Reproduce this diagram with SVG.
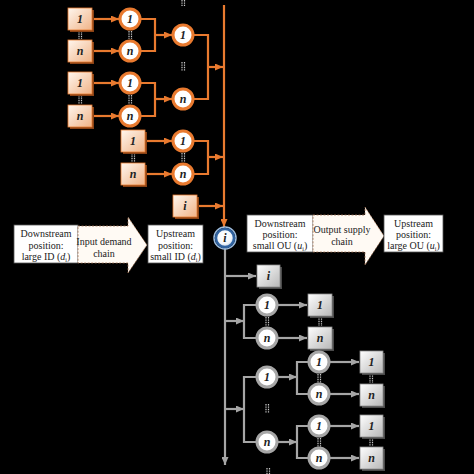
<svg xmlns="http://www.w3.org/2000/svg" width="474" height="474" viewBox="0 0 474 474">
<defs>
<linearGradient id="go" x1="0" y1="0" x2="1" y2="1"><stop offset="0" stop-color="#fff7ef"/><stop offset="1" stop-color="#f0b387"/></linearGradient>
<linearGradient id="gg" x1="0" y1="0" x2="1" y2="1"><stop offset="0" stop-color="#ffffff"/><stop offset="1" stop-color="#b8b8b8"/></linearGradient>
<radialGradient id="gb" cx="0.45" cy="0.4" r="0.6"><stop offset="0" stop-color="#ffffff"/><stop offset="0.7" stop-color="#f2f6fb"/><stop offset="1" stop-color="#b9cfe6"/></radialGradient>
<marker id="ao" markerUnits="userSpaceOnUse" markerWidth="8" markerHeight="7" refX="8" refY="3.5" orient="auto"><path d="M0,0 L8,3.5 L0,7 z" fill="#e97a2f"/></marker>
<marker id="ag" markerUnits="userSpaceOnUse" markerWidth="8" markerHeight="7" refX="8" refY="3.5" orient="auto"><path d="M0,0 L8,3.5 L0,7 z" fill="#a6a6a6"/></marker>
<style>
.bg{fill:#000}
.sqo{fill:url(#go);stroke:#e97a2f;stroke-width:0.8}
.sho{fill:#8a4215}
.sqg{fill:url(#gg);stroke:#8c8c8c;stroke-width:0.8}
.shg{fill:#4a4a4a}
.co{fill:#fff;stroke:#e97a2f;stroke-width:3}
.cg{fill:#fff;stroke:#a6a6a6;stroke-width:3}
.lo{fill:none;stroke:#e97a2f;stroke-width:2.2}
.lg{fill:none;stroke:#a6a6a6;stroke-width:2.2}
.lab{font-family:"Liberation Serif",serif;font-style:italic;font-weight:bold;font-size:12px;fill:#222;text-anchor:middle}
.dots{stroke:#c8c8c8;stroke-width:1.2;stroke-dasharray:1.4 1}
.box{fill:#fff;stroke:#555;stroke-width:0.8}
.arr{fill:#fffaf4;stroke:#a07050;stroke-width:0.8;stroke-dasharray:2 1.5}
.tx{font-family:"Liberation Serif",serif;font-size:10px;fill:#222;text-anchor:middle}
</style>
</defs>
<rect class="bg" x="0" y="0" width="474" height="474"/>

<g id="connectors">
<!-- orange -->
<line class="lo" x1="224" y1="5" x2="224" y2="227" marker-end="url(#ao)"/>
<line class="lo" x1="92" y1="19" x2="119" y2="19" marker-end="url(#ao)"/>
<line class="lo" x1="92" y1="51" x2="119" y2="51" marker-end="url(#ao)"/>
<line class="lo" x1="92" y1="83" x2="119" y2="83" marker-end="url(#ao)"/>
<line class="lo" x1="92" y1="116" x2="119" y2="116" marker-end="url(#ao)"/>
<path class="lo" d="M140,19 H155 V51 H140"/>
<line class="lo" x1="155" y1="35" x2="172" y2="35" marker-end="url(#ao)"/>
<path class="lo" d="M140,83 H155 V116 H140"/>
<line class="lo" x1="155" y1="99" x2="172" y2="99" marker-end="url(#ao)"/>
<path class="lo" d="M193,35 H208 V99 H193"/>
<line class="lo" x1="208" y1="67" x2="223" y2="67" marker-end="url(#ao)"/>
<line class="lo" x1="145" y1="141" x2="172" y2="141" marker-end="url(#ao)"/>
<line class="lo" x1="145" y1="174" x2="172" y2="174" marker-end="url(#ao)"/>
<path class="lo" d="M193,141 H208 V174 H193"/>
<line class="lo" x1="208" y1="157" x2="223" y2="157" marker-end="url(#ao)"/>
<line class="lo" x1="197" y1="206" x2="223" y2="206" marker-end="url(#ao)"/>
<!-- gray -->
<line class="lg" x1="225" y1="248" x2="225" y2="465" marker-end="url(#ag)"/>
<line class="lg" x1="225" y1="276" x2="256" y2="276" marker-end="url(#ag)"/>
<line class="lg" x1="225" y1="321" x2="244" y2="321" marker-end="url(#ag)"/>
<path class="lg" d="M257,305 H244 V338 H257"/>
<line class="lg" x1="277" y1="305" x2="307" y2="305" marker-end="url(#ag)"/>
<line class="lg" x1="277" y1="338" x2="307" y2="338" marker-end="url(#ag)"/>
<line class="lg" x1="225" y1="409" x2="244" y2="409" marker-end="url(#ag)"/>
<path class="lg" d="M257,377 H244 V442 H257"/>
<line class="lg" x1="277" y1="377" x2="297" y2="377" marker-end="url(#ag)"/>
<path class="lg" d="M309,362 H297 V394 H309"/>
<line class="lg" x1="329" y1="362" x2="359" y2="362" marker-end="url(#ag)"/>
<line class="lg" x1="329" y1="394" x2="359" y2="394" marker-end="url(#ag)"/>
<line class="lg" x1="277" y1="442" x2="297" y2="442" marker-end="url(#ag)"/>
<path class="lg" d="M309,426 H297 V458 H309"/>
<line class="lg" x1="329" y1="426" x2="359" y2="426" marker-end="url(#ag)"/>
<line class="lg" x1="329" y1="458" x2="359" y2="458" marker-end="url(#ag)"/>
</g>

<g id="dots">
<line class="dots" x1="182" y1="0" x2="182" y2="6"/><line class="dots" x1="184.5" y1="0" x2="184.5" y2="6"/>
<line class="dots" x1="79" y1="31" x2="79" y2="39"/><line class="dots" x1="81.5" y1="31" x2="81.5" y2="39"/>
<line class="dots" x1="129" y1="31" x2="129" y2="39"/><line class="dots" x1="131.5" y1="31" x2="131.5" y2="39"/>
<line class="dots" x1="182" y1="62" x2="182" y2="71"/><line class="dots" x1="184.5" y1="62" x2="184.5" y2="71"/>
<line class="dots" x1="79" y1="95" x2="79" y2="104"/><line class="dots" x1="81.5" y1="95" x2="81.5" y2="104"/>
<line class="dots" x1="129" y1="95" x2="129" y2="104"/><line class="dots" x1="131.5" y1="95" x2="131.5" y2="104"/>
<line class="dots" x1="132" y1="153" x2="132" y2="162"/><line class="dots" x1="134.5" y1="153" x2="134.5" y2="162"/>
<line class="dots" x1="182" y1="153" x2="182" y2="162"/><line class="dots" x1="184.5" y1="153" x2="184.5" y2="162"/>
<line class="dots" x1="266" y1="317" x2="266" y2="326"/><line class="dots" x1="268.5" y1="317" x2="268.5" y2="326"/>
<line class="dots" x1="319" y1="316" x2="319" y2="326"/><line class="dots" x1="321.5" y1="316" x2="321.5" y2="326"/>
<line class="dots" x1="266" y1="404" x2="266" y2="413"/><line class="dots" x1="268.5" y1="404" x2="268.5" y2="413"/>
<line class="dots" x1="318" y1="374" x2="318" y2="383"/><line class="dots" x1="320.5" y1="374" x2="320.5" y2="383"/>
<line class="dots" x1="370" y1="373" x2="370" y2="383"/><line class="dots" x1="372.5" y1="373" x2="372.5" y2="383"/>
<line class="dots" x1="318" y1="438" x2="318" y2="447"/><line class="dots" x1="320.5" y1="438" x2="320.5" y2="447"/>
<line class="dots" x1="370" y1="437" x2="370" y2="446"/><line class="dots" x1="372.5" y1="437" x2="372.5" y2="446"/>
<line class="dots" x1="267" y1="468" x2="267" y2="474"/><line class="dots" x1="269.5" y1="468" x2="269.5" y2="474"/>
</g>

<!-- orange squares -->
<g id="os1a"><rect class="sho" x="70" y="10" width="24" height="22"/><rect class="sqo" x="68" y="8" width="24" height="22"/><text class="lab" x="80" y="23">1</text></g>
<g id="os1b"><rect class="sho" x="70" y="42" width="24" height="22"/><rect class="sqo" x="68" y="40" width="24" height="22"/><text class="lab" x="80" y="55">n</text></g>
<g id="os2a"><rect class="sho" x="70" y="74" width="24" height="22"/><rect class="sqo" x="68" y="72" width="24" height="22"/><text class="lab" x="80" y="87">1</text></g>
<g id="os2b"><rect class="sho" x="70" y="107" width="24" height="22"/><rect class="sqo" x="68" y="105" width="24" height="22"/><text class="lab" x="80" y="120">n</text></g>
<g id="os3a"><rect class="sho" x="123" y="132" width="24" height="22"/><rect class="sqo" x="121" y="130" width="24" height="22"/><text class="lab" x="133" y="145">1</text></g>
<g id="os3b"><rect class="sho" x="123" y="165" width="24" height="22"/><rect class="sqo" x="121" y="163" width="24" height="22"/><text class="lab" x="133" y="178">n</text></g>
<g id="osi"><rect class="sho" x="175" y="197" width="24" height="22"/><rect class="sqo" x="173" y="195" width="24" height="22"/><text class="lab" x="185" y="210">i</text></g>

<!-- orange circles -->
<g id="oc1a"><circle class="co" cx="130" cy="19" r="10"/><text class="lab" x="130" y="23">1</text></g>
<g id="oc1b"><circle class="co" cx="130" cy="51" r="10"/><text class="lab" x="130" y="55">n</text></g>
<g id="oc2a"><circle class="co" cx="130" cy="83" r="10"/><text class="lab" x="130" y="87">1</text></g>
<g id="oc2b"><circle class="co" cx="130" cy="116" r="10"/><text class="lab" x="130" y="120">n</text></g>
<g id="oc3a"><circle class="co" cx="183" cy="35" r="10"/><text class="lab" x="183" y="39">1</text></g>
<g id="oc3b"><circle class="co" cx="183" cy="99" r="10"/><text class="lab" x="183" y="103">n</text></g>
<g id="oc4a"><circle class="co" cx="183" cy="141" r="10"/><text class="lab" x="183" y="145">1</text></g>
<g id="oc4b"><circle class="co" cx="183" cy="174" r="10"/><text class="lab" x="183" y="178">n</text></g>

<!-- blue center -->
<g id="center"><circle cx="225" cy="238" r="11" fill="none" stroke="#9dbbdb" stroke-width="1.5"/><circle cx="225" cy="238" r="9" fill="url(#gb)" stroke="#2f62a0" stroke-width="2.5"/><text class="lab" x="225" y="242">i</text></g>

<!-- left text boxes -->
<g id="downL"><rect class="box" x="14" y="225" width="64" height="38"/><text class="tx" x="46" y="237">Downstream</text><text class="tx" x="46" y="248.5">position:</text><text class="tx" x="46" y="260">large ID (<tspan font-style="italic">d</tspan><tspan font-size="6" dy="2">i</tspan><tspan dy="-2">)</tspan></text></g>
<g id="arrowL"><polygon class="arr" points="78,226 128,226 128,217 147,245 128,273 128,263 78,263"/><text class="tx" x="104" y="245">Input demand</text><text class="tx" x="104" y="256.5">chain</text></g>
<g id="upL"><rect class="box" x="148" y="225" width="55" height="38"/><text class="tx" x="175.5" y="237">Upstream</text><text class="tx" x="175.5" y="248.5">position:</text><text class="tx" x="175.5" y="260">small ID (<tspan font-style="italic">d</tspan><tspan font-size="6" dy="2">i</tspan><tspan dy="-2">)</tspan></text></g>

<!-- right text boxes -->
<g id="downR"><rect class="box" x="247" y="215" width="66" height="37"/><text class="tx" x="280" y="227">Downstream</text><text class="tx" x="280" y="238">position:</text><text class="tx" x="280" y="249">small OU (<tspan font-style="italic">u</tspan><tspan font-size="6" dy="2">i</tspan><tspan dy="-2">)</tspan></text></g>
<g id="arrowR"><polygon class="arr" points="313,215 365,215 365,207 384,236 365,265 365,252 313,252"/><text class="tx" x="342" y="233">Output supply</text><text class="tx" x="342" y="245">chain</text></g>
<g id="upR"><rect class="box" x="384" y="215" width="59" height="37"/><text class="tx" x="413.5" y="227">Upstream</text><text class="tx" x="413.5" y="238">position:</text><text class="tx" x="413.5" y="249">large OU (<tspan font-style="italic">u</tspan><tspan font-size="6" dy="2">i</tspan><tspan dy="-2">)</tspan></text></g>

<!-- gray squares -->
<g id="gsi"><rect class="shg" x="259" y="267" width="23" height="22"/><rect class="sqg" x="257" y="265" width="23" height="22"/><text class="lab" x="268.5" y="280">i</text></g>
<g id="gsa1"><rect class="shg" x="310" y="296" width="24" height="22"/><rect class="sqg" x="308" y="294" width="24" height="22"/><text class="lab" x="320" y="309">1</text></g>
<g id="gsan"><rect class="shg" x="310" y="329" width="24" height="22"/><rect class="sqg" x="308" y="327" width="24" height="22"/><text class="lab" x="320" y="342">n</text></g>
<g id="gsb1"><rect class="shg" x="362" y="353" width="23" height="22"/><rect class="sqg" x="360" y="351" width="23" height="22"/><text class="lab" x="371.5" y="366">1</text></g>
<g id="gsbn"><rect class="shg" x="362" y="386" width="23" height="22"/><rect class="sqg" x="360" y="384" width="23" height="22"/><text class="lab" x="371.5" y="399">n</text></g>
<g id="gsc1"><rect class="shg" x="362" y="417" width="23" height="22"/><rect class="sqg" x="360" y="415" width="23" height="22"/><text class="lab" x="371.5" y="430">1</text></g>
<g id="gscn"><rect class="shg" x="362" y="449" width="23" height="22"/><rect class="sqg" x="360" y="447" width="23" height="22"/><text class="lab" x="371.5" y="462">n</text></g>

<!-- gray circles -->
<g id="gca1"><circle class="cg" cx="267" cy="305" r="10"/><text class="lab" x="267" y="309">1</text></g>
<g id="gcan"><circle class="cg" cx="267" cy="338" r="10"/><text class="lab" x="267" y="342">n</text></g>
<g id="gcb1"><circle class="cg" cx="267" cy="377" r="10"/><text class="lab" x="267" y="381">1</text></g>
<g id="gcbn"><circle class="cg" cx="267" cy="442" r="10"/><text class="lab" x="267" y="446">n</text></g>
<g id="gcc1"><circle class="cg" cx="319" cy="362" r="10"/><text class="lab" x="319" y="366">1</text></g>
<g id="gccn"><circle class="cg" cx="319" cy="394" r="10"/><text class="lab" x="319" y="398">n</text></g>
<g id="gcd1"><circle class="cg" cx="319" cy="426" r="10"/><text class="lab" x="319" y="430">1</text></g>
<g id="gcdn"><circle class="cg" cx="319" cy="458" r="10"/><text class="lab" x="319" y="462">n</text></g>
</svg>
